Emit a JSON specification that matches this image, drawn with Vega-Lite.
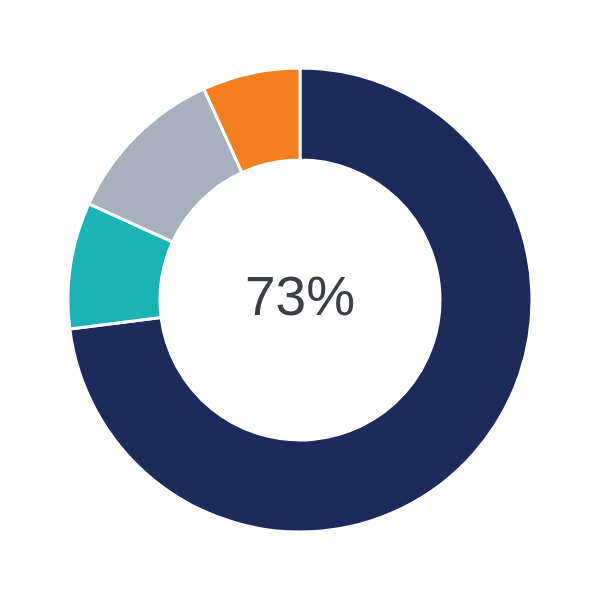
{
  "$schema": "https://vega.github.io/schema/vega-lite/v6.json",
  "width": 600,
  "height": 600,
  "padding": 0,
  "autosize": {"type": "fit", "contains": "padding"},
  "data": {
    "values": [
      {"category": "A", "value": 73, "order": 1},
      {"category": "B", "value": 8.8, "order": 2},
      {"category": "C", "value": 11.4, "order": 3},
      {"category": "D", "value": 6.8, "order": 4}
    ]
  },
  "layer": [
    {
      "mark": {
        "type": "arc",
        "innerRadius": 140,
        "outerRadius": 232,
        "stroke": "#ffffff",
        "strokeWidth": 3
      },
      "encoding": {
        "theta": {"field": "value", "type": "quantitative", "stack": true},
        "order": {"field": "order", "type": "quantitative"},
        "color": {
          "field": "category",
          "type": "nominal",
          "scale": {
            "domain": ["A", "B", "C", "D"],
            "range": ["#1c2b5a", "#1cb3b7", "#a7b1be", "#f37f21"]
          },
          "legend": null
        }
      }
    },
    {
      "data": {"values": [{"label": "73%"}]},
      "mark": {
        "type": "text",
        "font": "Liberation Sans",
        "fontSize": 55,
        "color": "#3a3f48",
        "align": "center",
        "baseline": "middle",
        "dy": -2
      },
      "encoding": {
        "text": {"field": "label", "type": "nominal"}
      }
    }
  ],
  "config": {
    "view": {"stroke": null}
  }
}
